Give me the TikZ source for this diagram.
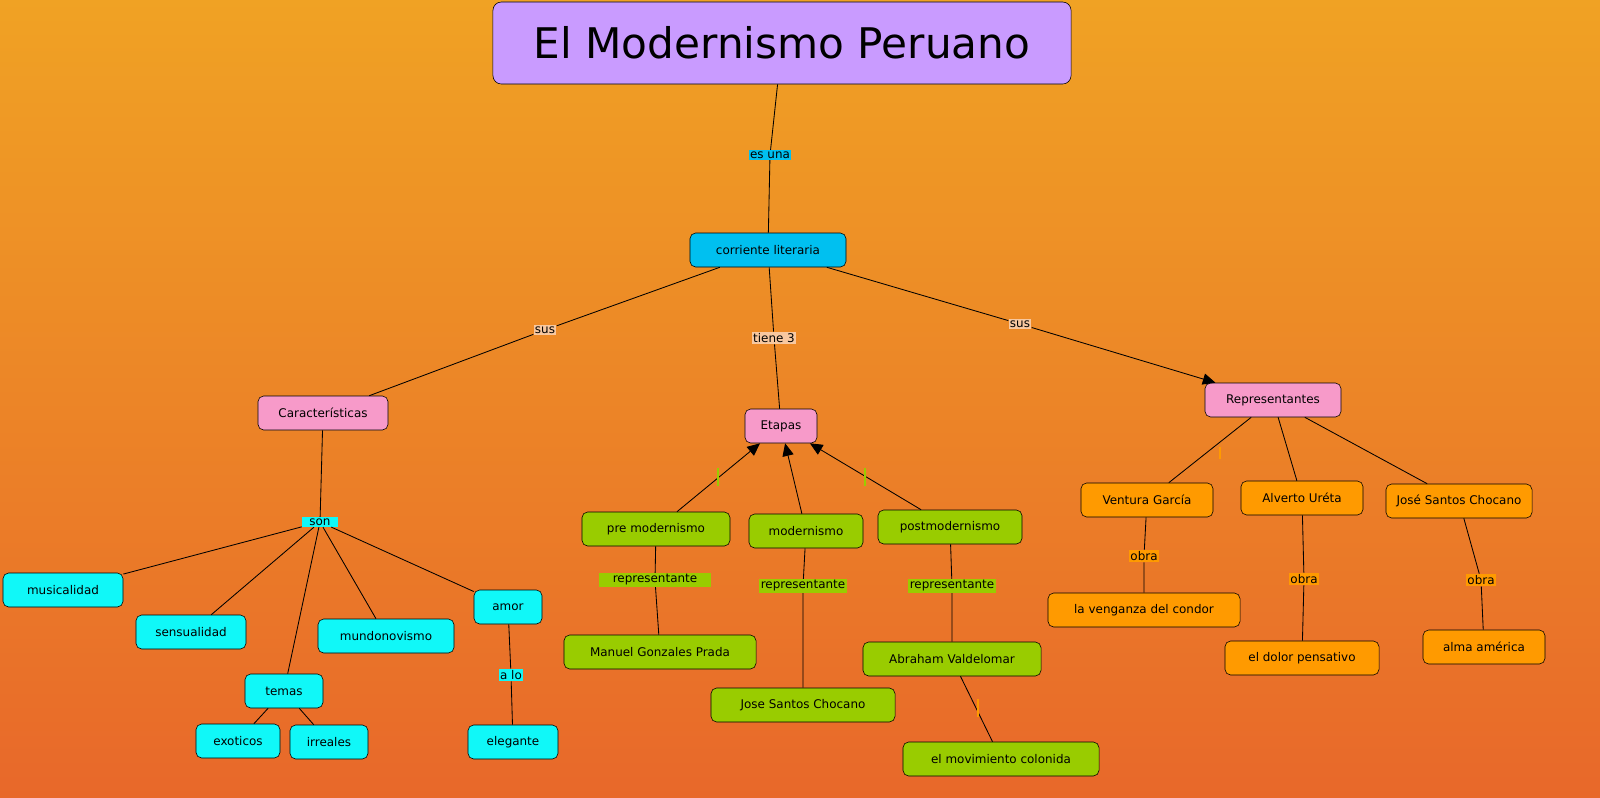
\documentclass[tikz,border=0pt]{standalone}
\usepackage{fontspec}
\setmainfont{DejaVu Sans}
\usetikzlibrary{arrows.meta}
\definecolor{bgtop}{HTML}{F0A224}
\definecolor{bgbot}{HTML}{E8682A}
\definecolor{cpur}{HTML}{C99BFF}
\definecolor{cblue}{HTML}{00C0F0}
\definecolor{ccyan}{HTML}{10F8F8}
\definecolor{cpink}{HTML}{F79AC9}
\definecolor{cgreen}{HTML}{99CC00}
\definecolor{corg}{HTML}{FF9A00}
\definecolor{cpeach}{HTML}{F8C8A0}
\tikzset{x=0.025cm,y=-0.025cm,
 box/.style={draw=black,rounded corners=4pt,font=\fontsize{8.5pt}{10pt}\selectfont,minimum height=0.85cm,inner xsep=6pt},
 lab/.style={font=\fontsize{8.5pt}{10pt}\selectfont,inner sep=1pt},
 tick/.style={minimum width=2pt,minimum height=0.45cm,inner sep=0pt},
 con/.style={draw=black,line width=0.6pt},
 arr/.style={con,-{Triangle[length=9pt,width=8pt]}}}
\begin{document}
\begin{tikzpicture}
\useasboundingbox (0,0) rectangle (1600,797);
\shade[top color=bgtop,bottom color=bgbot] (0,0) rectangle (1600,797);
\node[box,fill=cpur,font=\fontsize{30pt}{32pt}\selectfont,minimum width=14.45cm,minimum height=2.05cm,rounded corners=6pt] (t) at (782,43) {El Modernismo Peruano};
\node[box,fill=cblue,minimum width=3.9cm] (c) at (768,250) {corriente literaria};
\node[box,fill=cpink,minimum width=3.25cm] (car) at (323,413) {Características};
\node[box,fill=cpink,minimum width=1.8cm] (et) at (781,426) {Etapas};
\node[box,fill=cpink,minimum width=3.4cm] (rep) at (1273,400) {Representantes};
\foreach \n/\x/\y/\w/\t in {mus/63/590/3.0/musicalidad, sen/191/632/2.75/sensualidad, mun/386/636/3.4/mundonovismo, amo/508/607/1.7/amor, tem/284/691/1.95/temas, exo/238/741/2.1/exoticos, irr/329/742/1.95/irreales, ele/513/742/2.25/elegante}
  \node[box,fill=ccyan,minimum width=\w cm] (\n) at (\x,\y) {\t};
\foreach \n/\x/\y/\w/\t in {pre/656/529/3.7/pre modernismo, mod/806/531/2.85/modernismo, pos/950/527/3.6/postmodernismo, man/660/652/4.8/Manuel Gonzales Prada, jos/803/705/4.6/Jose Santos Chocano, abr/952/659/4.45/Abraham Valdelomar, mov/1001/759/4.9/el movimiento colonida}
  \node[box,fill=cgreen,minimum width=\w cm] (\n) at (\x,\y) {\t};
\foreach \n/\x/\y/\w/\t in {ven/1147/500/3.3/Ventura García, alv/1302/498/3.05/Alverto Uréta, jsc/1459/501/3.65/José Santos Chocano, lav/1144/610/4.8/la venganza del condor, dol/1302/658/3.85/el dolor pensativo, alm/1484/647/3.05/alma américa}
  \node[box,fill=corg,minimum width=\w cm] (\n) at (\x,\y) {\t};
% labels
\node[lab,fill=cblue] (l1) at (770,155) {es una};
\node[lab,fill=cpeach] (l2) at (545,330) {sus};
\node[lab,fill=cpeach] (l3) at (774,338) {tiene 3};
\node[lab,fill=cpeach] (l4) at (1020,324) {sus};
\node[lab,fill=ccyan,minimum width=0.9cm] (l5) at (320,522) {son};
\node[lab,fill=ccyan] (l6) at (511,675) {a lo};
\node[lab,fill=cgreen,minimum width=2.8cm] (r1) at (655,580) {representante};
\node[lab,fill=cgreen] (r2) at (803,586) {representante};
\node[lab,fill=cgreen] (r3) at (952,586) {representante};
\node[lab,fill=corg] (o1) at (1144,556) {obra};
\node[lab,fill=corg] (o2) at (1304,579) {obra};
\node[lab,fill=corg] (o3) at (1481,580) {obra};
\coordinate (g1) at (718,477); \coordinate (g2) at (865,477);
\coordinate (q1) at (978,708); \coordinate (q2) at (1220,453);
% connectors
\draw[con] (t) -- (l1) -- (c);
\draw[con] (c) -- (l2) -- (car);
\draw[con] (c) -- (l3) -- (et);
\draw[con] (c) -- (l4);
\draw[arr] (l4) -- (rep);
\draw[con] (car) -- (l5);
\foreach \n in {mus,sen,mun,amo,tem} \draw[con] (l5) -- (\n);
\draw[con] (tem) -- (exo); \draw[con] (tem) -- (irr);
\draw[con] (amo) -- (l6) -- (ele);
\draw[arr] (pre) -- (et);
\draw[arr] (mod) -- (et);
\draw[arr] (pos) -- (et);
\draw[con] (pre) -- (r1) -- (man);
\draw[con] (mod) -- (r2) -- (jos);
\draw[con] (pos) -- (r3) -- (abr);
\draw[con] (abr) -- (mov);
\draw[con] (rep) -- (ven); \draw[con] (rep) -- (alv); \draw[con] (rep) -- (jsc);
\draw[con] (ven) -- (o1) -- (lav);
\draw[con] (alv) -- (o2) -- (dol);
\draw[con] (jsc) -- (o3) -- (alm);
\node[tick,fill=cgreen] at (g1) {}; \node[tick,fill=cgreen] at (g2) {};
\node[tick,fill=corg] at (q1) {}; \node[tick,fill=corg,minimum height=0.3cm] at (q2) {};
\end{tikzpicture}
\end{document}
